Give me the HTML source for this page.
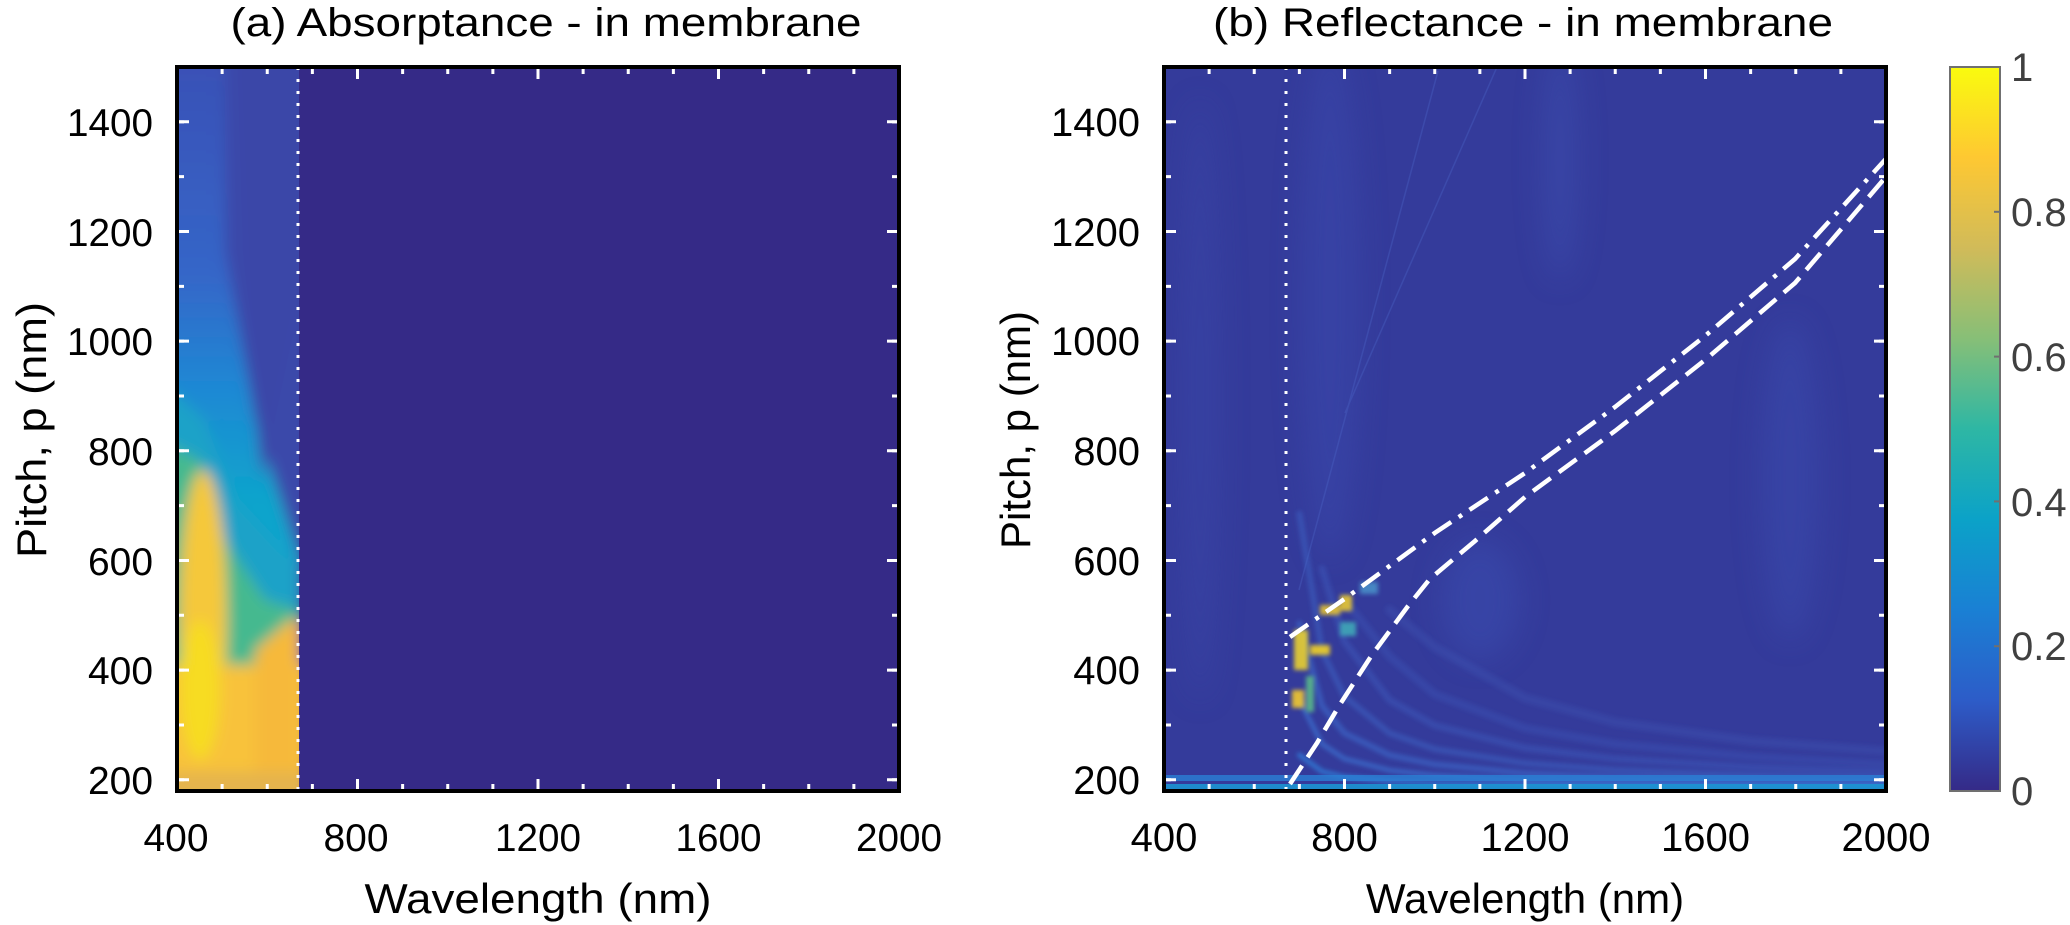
<!DOCTYPE html>
<html><head><meta charset="utf-8"><style>
html,body{margin:0;padding:0;background:#fff;}
svg{display:block;}
text{font-family:"Liberation Sans",Arial,sans-serif;}
</style></head><body>
<svg width="2070" height="925" viewBox="0 0 2070 925" xmlns="http://www.w3.org/2000/svg">
<defs>
<clipPath id="ca2"><rect x="177" y="67" width="122" height="724"/></clipPath>
<clipPath id="cb"><rect x="1164" y="67" width="722" height="724"/></clipPath>
<filter id="bl" x="-20%" y="-20%" width="140%" height="140%"><feGaussianBlur stdDeviation="7"/></filter>
<filter id="bl2"><feGaussianBlur stdDeviation="2"/></filter>
<filter id="bl3" x="-50%" y="-50%" width="200%" height="200%"><feGaussianBlur stdDeviation="14"/></filter>
<linearGradient id="par" x1="0" y1="1" x2="0" y2="0">
<stop offset="0" stop-color="#352a87"/><stop offset="0.125" stop-color="#2d5cc8"/>
<stop offset="0.25" stop-color="#1a80d4"/><stop offset="0.375" stop-color="#0ba2c8"/>
<stop offset="0.5" stop-color="#2eb7a4"/><stop offset="0.625" stop-color="#87bf77"/>
<stop offset="0.75" stop-color="#d1bb59"/><stop offset="0.875" stop-color="#fec832"/>
<stop offset="1" stop-color="#f9fb0e"/></linearGradient>
<linearGradient id="leftg" x1="0" y1="0" x2="0" y2="1">
<stop offset="0" stop-color="#3a4fb5"/><stop offset="0.3" stop-color="#3566c8"/>
<stop offset="0.45" stop-color="#1e88d4"/><stop offset="0.6" stop-color="#0ea4cc"/><stop offset="1" stop-color="#10a4d0"/></linearGradient>
</defs>

<!-- Panel (a) -->
<text x="546" y="36" font-size="40" text-anchor="middle" textLength="631" lengthAdjust="spacingAndGlyphs">(a) Absorptance - in membrane</text>
<rect x="177" y="67" width="722" height="724" fill="#352a87"/>
<g clip-path="url(#ca2)">
<g filter="url(#bl)">
<rect x="160" y="50" width="150" height="760" fill="#3a48aa"/>
<polygon points="160,50 225,50 225,250 255,420 300,560 300,800 160,800" fill="url(#leftg)"/>
<polygon points="235,60 300,60 300,300 262,480 245,300" fill="#3a47a8"/>
<polygon points="160,380 205,420 235,500 300,570 300,660 160,660" fill="#1aa2c8"/>
<polygon points="160,440 200,460 225,540 265,600 300,610 300,680 160,690" fill="#45b98f"/>
<ellipse cx="203" cy="620" rx="24" ry="150" fill="#f5c83a"/>
<rect x="160" y="665" width="150" height="140" fill="#f8c23a"/>
<polygon points="255,650 290,620 300,620 300,800 255,800" fill="#f6b93a"/>
<ellipse cx="200" cy="690" rx="20" ry="70" fill="#f7dc24"/>
<rect x="160" y="772" width="150" height="30" fill="#e4b44e"/>
</g></g>
<line x1="298" y1="67" x2="298" y2="791" stroke="#fff" stroke-width="3" stroke-dasharray="3 9"/>
<g stroke="#fff" fill="none">
<line x1="175.5" y1="70.5" x2="900.5" y2="70.5" stroke-width="7" stroke-dasharray="3 42.125"/>
<line x1="175.5" y1="73" x2="900.5" y2="73" stroke-width="12" stroke-dasharray="3 177.5"/>
<line x1="175.5" y1="787.5" x2="900.5" y2="787.5" stroke-width="7" stroke-dasharray="3 42.125"/>
<line x1="175.5" y1="785" x2="900.5" y2="785" stroke-width="12" stroke-dasharray="3 177.5"/>
<line x1="180.5" y1="65.5" x2="180.5" y2="792" stroke-width="7" stroke-dasharray="3 51.83"/>
<line x1="183" y1="120.3" x2="183" y2="782" stroke-width="12" stroke-dasharray="3 106.66"/>
<line x1="895.5" y1="65.5" x2="895.5" y2="792" stroke-width="7" stroke-dasharray="3 51.83"/>
<line x1="893" y1="120.3" x2="893" y2="782" stroke-width="12" stroke-dasharray="3 106.66"/>
</g>
<rect x="177" y="67" width="722" height="724" fill="none" stroke="#000" stroke-width="4"/>
<g font-size="39" text-anchor="end">
<text x="153" y="136" textLength="86" lengthAdjust="spacingAndGlyphs">1400</text>
<text x="153" y="246" textLength="86" lengthAdjust="spacingAndGlyphs">1200</text>
<text x="153" y="355" textLength="86" lengthAdjust="spacingAndGlyphs">1000</text>
<text x="153" y="465" textLength="65" lengthAdjust="spacingAndGlyphs">800</text>
<text x="153" y="575" textLength="65" lengthAdjust="spacingAndGlyphs">600</text>
<text x="153" y="684" textLength="65" lengthAdjust="spacingAndGlyphs">400</text>
<text x="153" y="794" textLength="65" lengthAdjust="spacingAndGlyphs">200</text>
</g>
<g font-size="39" text-anchor="middle">
<text x="176" y="851" textLength="65" lengthAdjust="spacingAndGlyphs">400</text>
<text x="356" y="851" textLength="65" lengthAdjust="spacingAndGlyphs">800</text>
<text x="538" y="851" textLength="86" lengthAdjust="spacingAndGlyphs">1200</text>
<text x="718.5" y="851" textLength="86" lengthAdjust="spacingAndGlyphs">1600</text>
<text x="899" y="851" textLength="86" lengthAdjust="spacingAndGlyphs">2000</text>
</g>
<text x="538" y="913" font-size="42" text-anchor="middle" textLength="347" lengthAdjust="spacingAndGlyphs">Wavelength (nm)</text>
<text transform="translate(46,430) rotate(-90)" font-size="42" text-anchor="middle" textLength="256" lengthAdjust="spacingAndGlyphs">Pitch, p (nm)</text>

<!-- Panel (b) -->
<text x="1523" y="36" font-size="40" text-anchor="middle" textLength="620" lengthAdjust="spacingAndGlyphs">(b) Reflectance - in membrane</text>
<rect x="1164" y="67" width="722" height="724" fill="#343b9b"/>
<g clip-path="url(#cb)">
<g filter="url(#bl3)" opacity="0.5">
<ellipse cx="1560" cy="160" rx="18" ry="120" fill="#3d4fb0"/>
<ellipse cx="1790" cy="480" rx="30" ry="160" fill="#3a4cae"/>
<ellipse cx="1330" cy="300" rx="30" ry="260" fill="#3a4aad"/>
<ellipse cx="1200" cy="400" rx="20" ry="300" fill="#3a47a8"/>
<ellipse cx="1480" cy="600" rx="40" ry="60" fill="#3b4db0"/>
</g>
<g stroke="#4a62c4" stroke-width="1.5" opacity="0.4" fill="none">
<line x1="1299" y1="590" x2="1438" y2="71"/>
<line x1="1345" y1="413" x2="1497" y2="67"/>
</g>
<g fill="none" stroke-linecap="round" filter="url(#bl2)">
<polyline stroke="#2e7ad6" stroke-width="5" opacity="0.8" points="1299.4,755 1322,771.5 1344.5,777 1389.6,781.4 1434.7,783.2 1525,785 1615,785.8 1750.4,786.4 1885.8,786.8"/>
<polyline stroke="#3a6fd0" stroke-width="5" opacity="0.7" points="1299.4,700 1322,744 1344.5,758.8 1389.6,770.3 1434.7,775.3 1525,779.9 1615,782 1750.4,783.7 1885.8,784.6"/>
<polyline stroke="#3a6bcc" stroke-width="6" opacity="0.6" points="1299.4,623.5 1322,705.8 1344.5,733.2 1389.6,755.1 1434.7,764.4 1525,773.2 1615,777 1750.4,780.3 1885.8,782"/>
<polyline stroke="#3d66c8" stroke-width="6" opacity="0.5" points="1299.4,513.8 1322,650.9 1344.5,696.4 1389.6,733.2 1434.7,749.1 1525,763.3 1615,769.9 1750.4,774.9 1885.8,777.9"/>
<polyline stroke="#3e60c2" stroke-width="7" opacity="0.4" points="1322,568.7 1344.5,641.6 1389.6,700.2 1434.7,725.4 1525,747.9 1615,758.8 1750.4,767.1 1885.8,771.7"/>
<polyline stroke="#3e5cbe" stroke-width="8" opacity="0.35" points="1344.5,600 1389.6,656.4 1434.7,694.2 1525,728.2 1615,744 1750.4,756.7 1885.8,763.8"/>
<polyline stroke="#3f59bb" stroke-width="9" opacity="0.3" points="1389.6,610 1434.7,647.1 1525,698 1615,722.2 1750.4,741 1885.8,751.4"/>
</g>
<rect x="1164" y="775" width="722" height="6" fill="#2a7fd4" opacity="0.8"/>
<rect x="1164" y="784" width="722" height="7" fill="#1c95d2" opacity="0.9"/>
<g filter="url(#bl2)" opacity="0.9">
<rect x="1292" y="690" width="12" height="18" fill="#f2c82e"/>
<rect x="1294" y="630" width="14" height="40" fill="#e8d030"/>
<rect x="1310" y="645" width="20" height="10" fill="#f0d028"/>
<rect x="1320" y="605" width="20" height="10" fill="#e4c234"/>
<rect x="1340" y="595" width="12" height="16" fill="#e8c830"/>
<rect x="1306" y="676" width="8" height="36" fill="#5ab88a"/>
<rect x="1340" y="622" width="16" height="14" fill="#3fa8b8"/>
<rect x="1360" y="582" width="18" height="12" fill="#4a8ec8"/>
</g>
</g>
<line x1="1286" y1="67" x2="1286" y2="791" stroke="#fff" stroke-width="3" stroke-dasharray="3 9"/>
<g fill="none" stroke="#fff" stroke-width="4.5">
<polyline stroke-dasharray="22 9 4 9" points="1290,637 1344.5,599 1389.6,566 1434.7,533 1525,473 1615,407 1705,336 1795,259 1885.8,159"/>
<polyline stroke-dasharray="22 10" points="1290,784 1317,743 1339.6,705 1371.2,656 1407.3,607 1429.8,579 1475,541 1525,497 1615,431 1705,360 1795,283 1885.8,177"/>
</g>
<g stroke="#fff" fill="none">
<line x1="1162.5" y1="70.5" x2="1887.5" y2="70.5" stroke-width="7" stroke-dasharray="3 42.125"/>
<line x1="1162.5" y1="73" x2="1887.5" y2="73" stroke-width="12" stroke-dasharray="3 177.5"/>
<line x1="1162.5" y1="787.5" x2="1887.5" y2="787.5" stroke-width="7" stroke-dasharray="3 42.125"/>
<line x1="1162.5" y1="785" x2="1887.5" y2="785" stroke-width="12" stroke-dasharray="3 177.5"/>
<line x1="1167.5" y1="65.5" x2="1167.5" y2="792" stroke-width="7" stroke-dasharray="3 51.83"/>
<line x1="1170" y1="120.3" x2="1170" y2="782" stroke-width="12" stroke-dasharray="3 106.66"/>
<line x1="1882.5" y1="65.5" x2="1882.5" y2="792" stroke-width="7" stroke-dasharray="3 51.83"/>
<line x1="1880" y1="120.3" x2="1880" y2="782" stroke-width="12" stroke-dasharray="3 106.66"/>
</g>
<rect x="1164" y="67" width="722" height="724" fill="none" stroke="#000" stroke-width="4"/>
<g font-size="40" text-anchor="end">
<text x="1140" y="136">1400</text><text x="1140" y="246">1200</text><text x="1140" y="355">1000</text>
<text x="1140" y="465">800</text><text x="1140" y="575">600</text><text x="1140" y="684">400</text><text x="1140" y="794">200</text>
</g>
<g font-size="40" text-anchor="middle">
<text x="1164" y="851">400</text><text x="1344.5" y="851">800</text><text x="1525" y="851">1200</text>
<text x="1705.5" y="851">1600</text><text x="1886" y="851">2000</text>
</g>
<text x="1525" y="913" font-size="42" text-anchor="middle">Wavelength (nm)</text>
<text transform="translate(1030,430) rotate(-90)" font-size="42" text-anchor="middle">Pitch, p (nm)</text>

<!-- Colorbar -->
<rect x="1950" y="67" width="50" height="724" fill="url(#par)" stroke="#707070" stroke-width="2"/>
<g stroke="#707070" stroke-width="2">
<line x1="1994" y1="211.8" x2="2000" y2="211.8"/><line x1="1994" y1="356.6" x2="2000" y2="356.6"/>
<line x1="1994" y1="501.4" x2="2000" y2="501.4"/><line x1="1994" y1="646.2" x2="2000" y2="646.2"/>
</g>
<g font-size="40" fill="#404040">
<text x="2011" y="81">1</text><text x="2011" y="226">0.8</text><text x="2011" y="371">0.6</text>
<text x="2011" y="516">0.4</text><text x="2011" y="660">0.2</text><text x="2011" y="805">0</text>
</g>
</svg>
</body></html>
